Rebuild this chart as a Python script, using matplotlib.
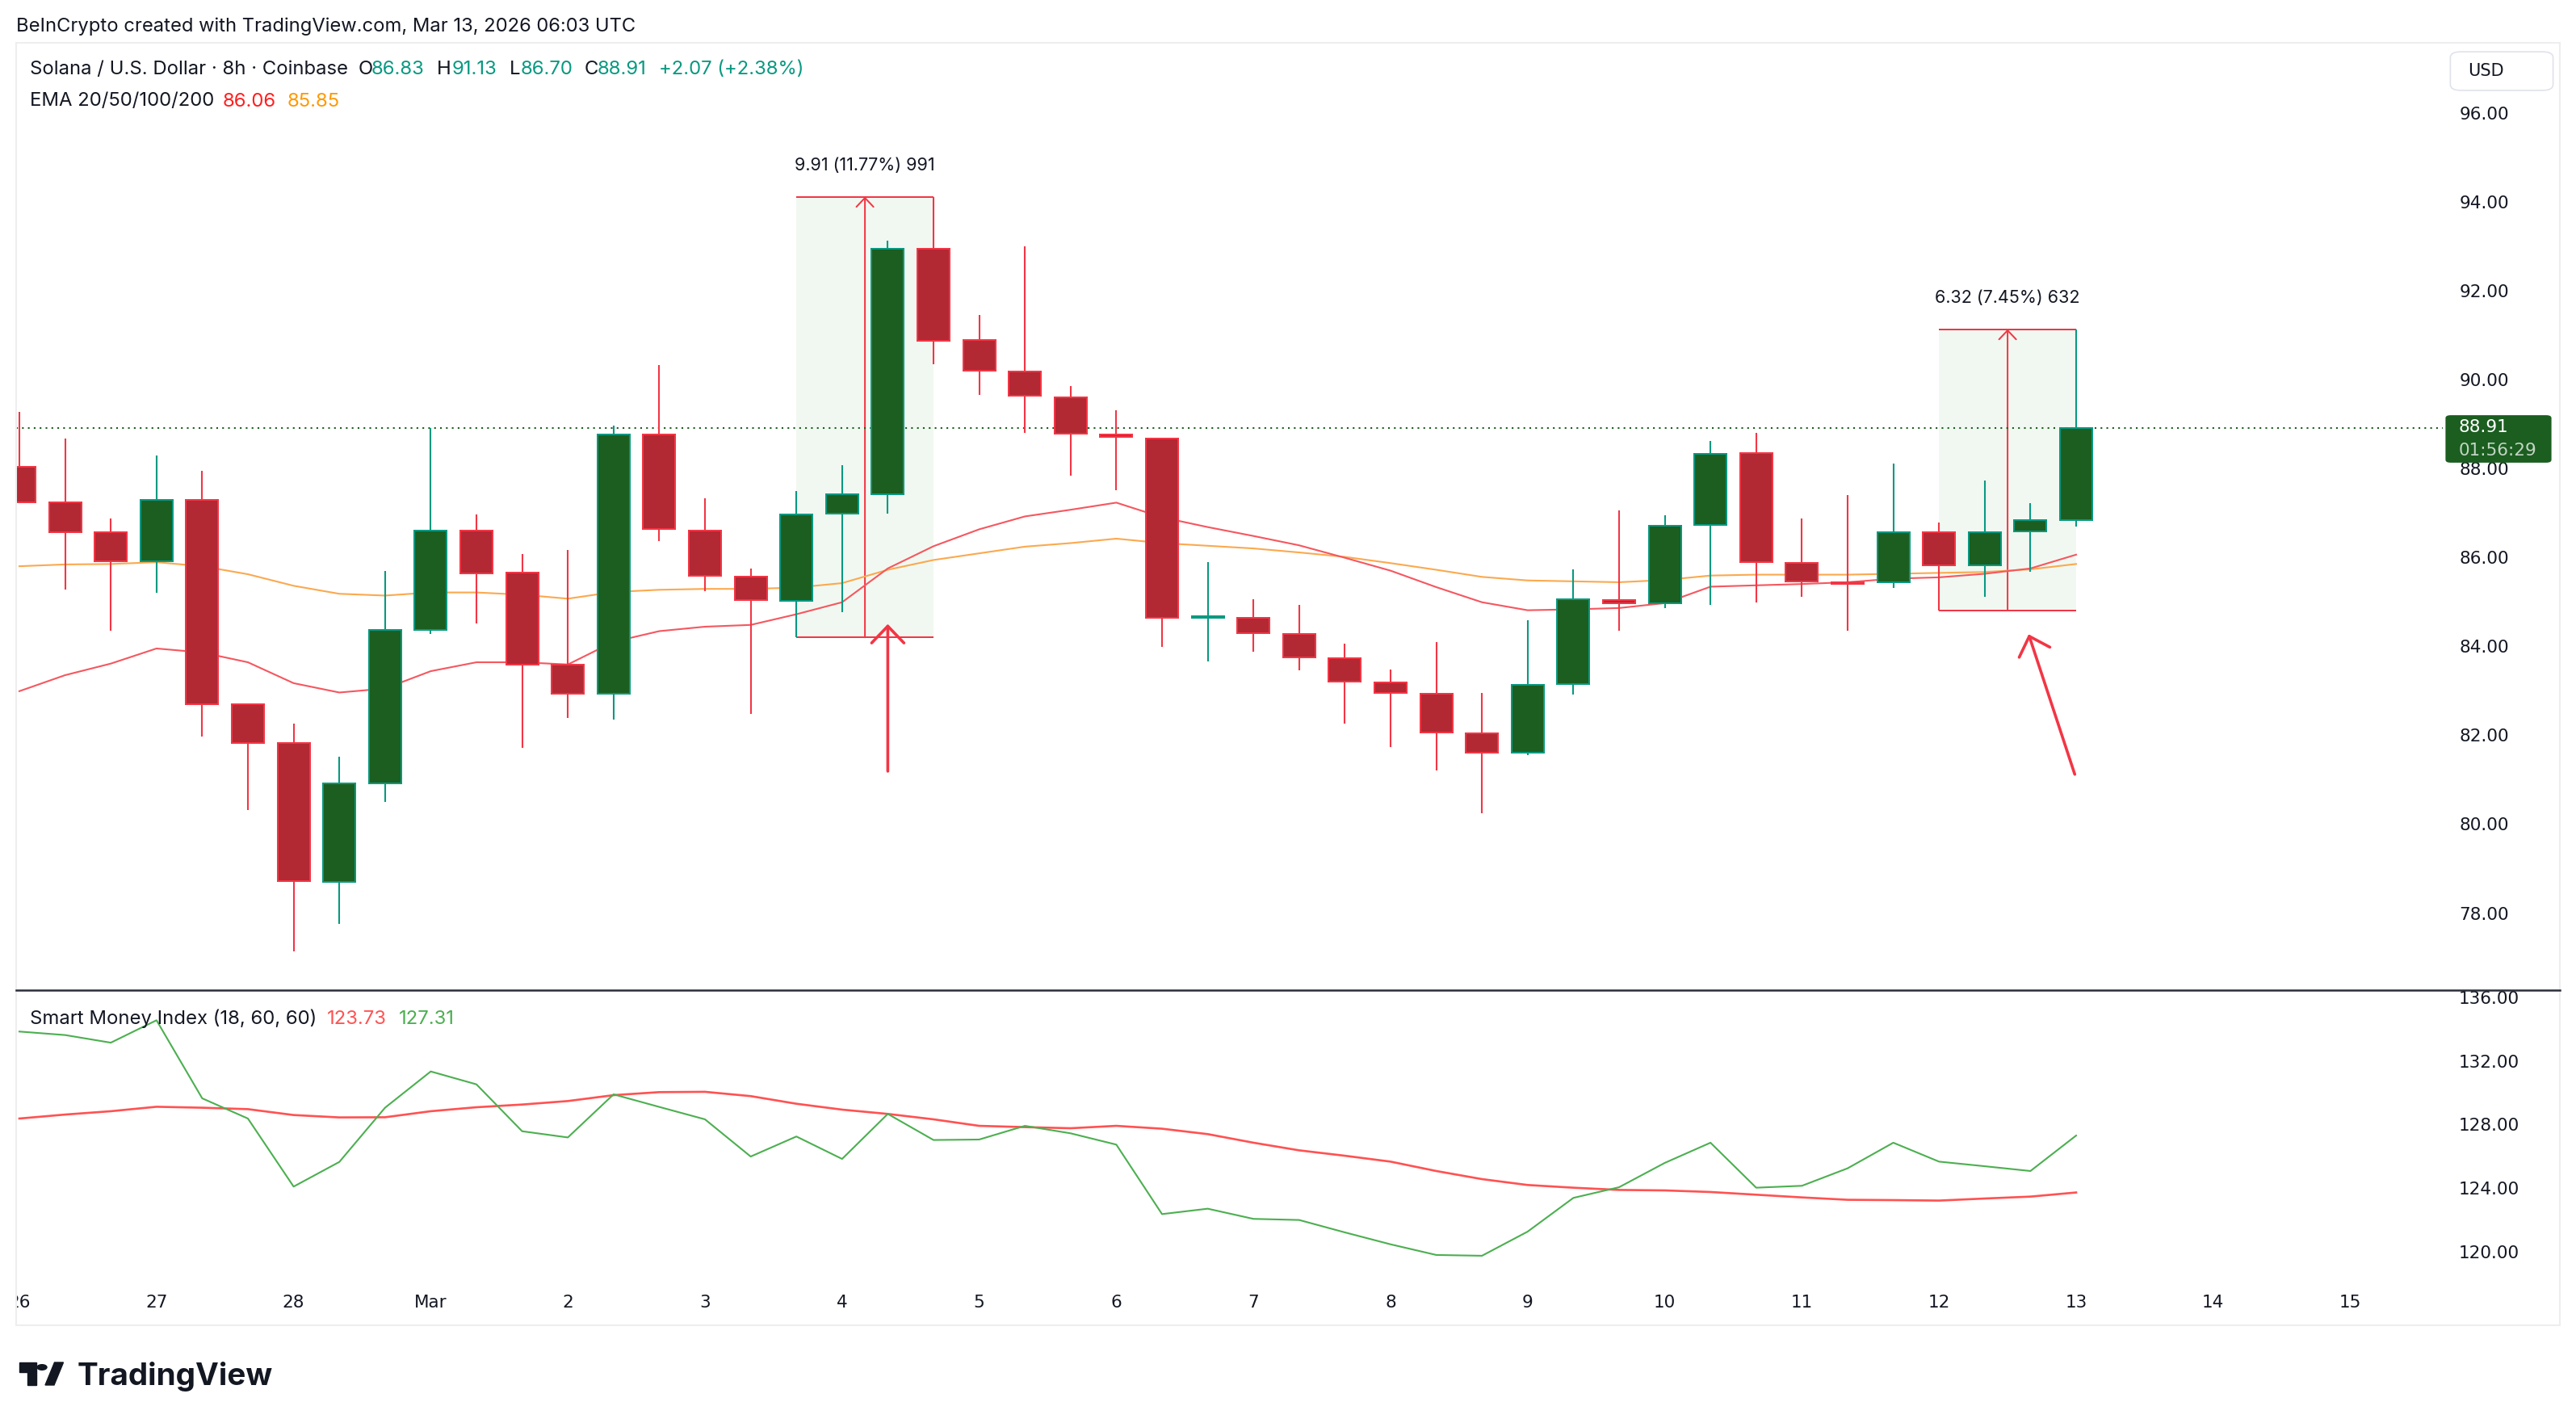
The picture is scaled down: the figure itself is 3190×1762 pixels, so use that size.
import matplotlib
matplotlib.use("Agg")
import matplotlib.pyplot as plt
from matplotlib.patches import Rectangle, FancyBboxPatch, Polygon, Circle
from matplotlib.transforms import Bbox, TransformedBbox

W, H, DPI = 3190, 1762, 100

# ---------------- data (8h candles, index 0 = Feb 26 00:00) ----------------
opens = [88.03, 87.23, 86.57, 85.91, 87.30, 82.70, 81.82, 78.70, 80.92, 84.37,
         86.61, 85.65, 83.59, 82.93, 88.77, 86.61, 85.56, 85.03, 86.99, 87.41,
         92.94, 90.88, 90.17, 89.60, 88.76, 88.67, 84.64, 84.64, 84.28, 83.74,
         83.18, 82.93, 82.04, 81.60, 83.15, 85.04, 84.96, 86.72, 88.35, 85.88,
         85.44, 85.43, 86.56, 85.82, 86.58, 86.83]
highs = [89.27, 88.68, 86.88, 88.29, 87.94, 82.72, 82.26, 81.52, 85.69, 88.90,
         86.97, 86.08, 86.17, 88.97, 90.33, 87.33, 85.75, 87.49, 88.07, 93.12,
         94.11, 91.45, 92.99, 89.86, 89.30, 88.69, 85.90, 85.06, 84.93, 84.06,
         83.47, 84.09, 82.95, 84.58, 85.73, 87.05, 86.95, 88.62, 88.80, 86.87,
         87.40, 88.10, 86.79, 87.72, 87.22, 91.13]
lows = [87.22, 85.28, 84.35, 85.20, 81.97, 80.31, 77.13, 77.75, 80.50, 84.28,
        84.52, 81.71, 82.38, 82.36, 86.36, 85.23, 82.47, 84.20, 84.77, 86.99,
        90.34, 89.65, 88.79, 87.83, 87.51, 83.98, 83.65, 83.88, 83.46, 82.26,
        81.74, 81.20, 80.25, 81.55, 82.92, 84.34, 84.86, 84.93, 84.99, 85.12,
        84.34, 85.32, 84.81, 85.12, 85.67, 86.70]
closes = [87.24, 86.57, 85.91, 87.30, 82.70, 81.83, 78.72, 80.91, 84.36, 86.61,
          85.63, 83.59, 82.93, 88.77, 86.64, 85.58, 85.04, 86.97, 87.41, 92.94,
          90.87, 90.20, 89.64, 88.78, 88.71, 84.64, 84.66, 84.30, 83.75, 83.21,
          82.95, 82.06, 81.60, 83.14, 85.05, 84.96, 86.71, 88.33, 85.89, 85.46,
          85.41, 86.56, 85.82, 86.56, 86.83, 88.91]
ema20 = [82.99, 83.35, 83.61, 83.95, 83.86, 83.64, 83.17, 82.96, 83.05, 83.44,
         83.64, 83.64, 83.59, 84.10, 84.34, 84.44, 84.48, 84.72, 84.99, 85.75,
         86.25, 86.63, 86.92, 87.07, 87.23, 86.90, 86.68, 86.48, 86.27, 85.99,
         85.70, 85.33, 84.99, 84.81, 84.83, 84.86, 84.97, 85.34, 85.37, 85.40,
         85.44, 85.52, 85.55, 85.63, 85.75, 86.06]
ema50 = [85.80, 85.84, 85.85, 85.89, 85.80, 85.62, 85.36, 85.18, 85.14, 85.21,
         85.21, 85.16, 85.07, 85.22, 85.27, 85.29, 85.29, 85.32, 85.42, 85.72,
         85.94, 86.09, 86.24, 86.32, 86.42, 86.32, 86.26, 86.20, 86.11, 86.01,
         85.87, 85.72, 85.56, 85.48, 85.46, 85.44, 85.49, 85.59, 85.61, 85.61,
         85.61, 85.63, 85.65, 85.67, 85.73, 85.85]
smi_green = [133.85, 133.63, 133.15, 134.56, 129.65, 128.38, 124.10, 125.65, 129.06, 131.34,
             130.53, 127.58, 127.19, 129.90, 129.11, 128.33, 125.99, 127.25, 125.84, 128.67,
             127.03, 127.06, 127.92, 127.45, 126.74, 122.37, 122.71, 122.07, 122.00, 121.22,
             120.47, 119.80, 119.75, 121.27, 123.39, 124.06, 125.59, 126.86, 124.03, 124.15,
             125.25, 126.86, 125.67, 125.38, 125.08, 127.31]
smi_red = [128.38, 128.63, 128.84, 129.12, 129.06, 128.97, 128.60, 128.45, 128.46, 128.84,
           129.09, 129.26, 129.48, 129.85, 130.04, 130.06, 129.79, 129.31, 128.94, 128.67,
           128.33, 127.92, 127.84, 127.77, 127.92, 127.74, 127.40, 126.86, 126.38, 126.04,
           125.67, 125.08, 124.57, 124.20, 124.03, 123.89, 123.86, 123.76, 123.59, 123.42,
           123.27, 123.25, 123.22, 123.35, 123.47, 123.73]
day_labels = ["26", "27", "28", "Mar", "2", "3", "4", "5", "6", "7", "8", "9",
              "10", "11", "12", "13", "14", "15"]
price_ticks = [78, 80, 82, 84, 86, 88, 90, 92, 94, 96]
smi_ticks = [120, 124, 128, 132, 136]
last_price = 88.91
# measurement boxes: (start candle, end candle, low, high, label)
measure_boxes = [(17, 20, 84.20, 94.11, "9.91 (11.77%) 991"),
                 (42, 45, 84.81, 91.13, "6.32 (7.45%) 632")]
# callout arrows: (tail x, tail price, tip x, tip price)
callouts = [(19.0, 81.19, 19.0, 84.50), (44.97, 81.12, 43.96, 84.27)]

# ---------------- style ----------------
UP_FILL, UP_EDGE = "#1b5e20", "#089981"
DN_FILL, DN_EDGE = "#b22833", "#f23645"
TXT = "#131722"
AXFONT = "DejaVu Sans"
HDFONT = ["Inter", "DejaVu Sans"]

fig = plt.figure(figsize=(W / DPI, H / DPI), dpi=DPI, facecolor="white")


def fx(x):
    return x / W


def fy(y):
    return 1 - y / H


PL, PR = 20, 3025
PTOP, PSEP, PBOT = 55, 1226, 1585
ax = fig.add_axes([fx(PL), fy(PSEP), (PR - PL) / W, (PSEP - PTOP) / H])
ax2 = fig.add_axes([fx(PL), fy(PBOT), (PR - PL) / W, (PBOT - PSEP) / H])

xmin, xmax = (PL - 24) / 56.6, (PR - 24) / 56.6
for a in (ax, ax2):
    a.set_xlim(xmin, xmax)
    for s in a.spines.values():
        s.set_visible(False)
    a.yaxis.tick_right()
    a.tick_params(axis="y", length=0, pad=14.5, labelsize=15.5, labelcolor=TXT)
    a.set_facecolor("white")

ax.set_ylim(96 - (PSEP - 139.5) / 55.06, 96 + (139.5 - PTOP) / 55.06)
ax.set_yticks(price_ticks, [f"{v:.2f}" for v in price_ticks], fontfamily=AXFONT)
ax.set_xticks([])

ax2.set_ylim(120 - (PBOT - 1550) / 19.69, 120 + (1550 - PSEP) / 19.69)
ax2.set_yticks(smi_ticks, [f"{v:.2f}" for v in smi_ticks], fontfamily=AXFONT)
ax2.set_xticks([3 * k for k in range(len(day_labels))], day_labels, fontfamily=AXFONT)
ax2.tick_params(axis="x", length=0, pad=13, labelsize=15.5, labelcolor=TXT)
clipbox = TransformedBbox(Bbox.from_extents(fx(PL), 0, 1, 1), fig.transFigure)
t0 = ax2.xaxis.get_major_ticks()[0]
t0.label1.set_clip_on(True)
t0.label1.set_clip_box(clipbox)

# ---------------- measure boxes ----------------
for x0, x1, lo, hi, label in measure_boxes:
    ax.add_patch(Rectangle((x0, lo), x1 - x0, hi - lo, facecolor="#f1f8f1",
                           edgecolor="none", zorder=0.5))
    ax.hlines([lo, hi], x0, x1, colors=DN_EDGE, lw=1.44, zorder=1)
    mid = (x0 + x1) / 2
    ax.annotate("", xy=(mid, hi), xytext=(mid, lo),
                arrowprops=dict(arrowstyle="->,head_length=0.4,head_width=0.38",
                                color=DN_EDGE, lw=1.44, shrinkA=0, shrinkB=0,
                                mutation_scale=20), zorder=1)
    ax.annotate(label, xy=(mid, hi), xytext=(0, 28), textcoords="offset points",
                ha="center", va="center", fontsize=15.5, color=TXT,
                fontfamily=HDFONT)

# ---------------- EMAs ----------------
xs = list(range(len(opens)))
ax.plot(xs, ema50, color="#fba94f", lw=1.5, zorder=2)
ax.plot(xs, ema20, color="#f5575f", lw=1.5, zorder=2)

# ---------------- candles ----------------
up = [c >= o for o, c in zip(opens, closes)]
wick_c = [UP_EDGE if u else DN_EDGE for u in up]
fill_c = [UP_FILL if u else DN_FILL for u in up]
bottoms = [min(o, c) for o, c in zip(opens, closes)]
heights = [max(abs(c - o), 0.03) for o, c in zip(opens, closes)]
ax.vlines(xs, lows, highs, colors=wick_c, lw=1.5, zorder=3)
ax.bar(xs, heights, bottom=bottoms, width=0.707, color=fill_c, edgecolor=wick_c,
       linewidth=1.44, zorder=4)

# last price dotted line
ax.axhline(last_price, color="#1b5e20", lw=1.5, ls=(0, (1, 2.5)), zorder=1.5)

# callout arrows
for tx, ty, hx, hy in callouts:
    ax.annotate("", xy=(hx, hy), xytext=(tx, ty),
                arrowprops=dict(arrowstyle="->,head_length=0.75,head_width=0.72",
                                color=DN_EDGE, lw=2.6, shrinkA=0, shrinkB=0,
                                mutation_scale=20), zorder=6)

# ---------------- SMI ----------------
ax2.plot(xs, smi_red, color="#ff5252", lw=1.9, zorder=2)
ax2.plot(xs, smi_green, color="#4caf50", lw=1.5, zorder=3)

# ---------------- frame & separator ----------------
fig.add_artist(Rectangle((fx(PL), fy(1641)), (3170 - PL) / W, (1641 - 53) / H,
                         transform=fig.transFigure, fill=False, edgecolor="#eeeeee",
                         lw=1.5, zorder=0.1))
fig.add_artist(plt.Line2D([fx(PL), fx(3170)], [fy(PSEP), fy(PSEP)],
                          transform=fig.transFigure, color="#2a2e39", lw=1.8, zorder=5))

# last price label
fig.add_artist(FancyBboxPatch((fx(3030), fy(572)), (3158 - 3030) / W, (572 - 515) / H,
                              boxstyle="round,pad=0.0005,rounding_size=0.002",
                              transform=fig.transFigure, facecolor="#1b5e20",
                              edgecolor="none", zorder=6))
fig.text(fx(3045), fy(529), f"{last_price:.2f}", ha="left", va="center",
         fontsize=15.5, color="white", fontfamily=AXFONT, zorder=7)
fig.text(fx(3045), fy(558), "01:56:29", ha="left", va="center",
         fontsize=15.5, color="#c3d4c4", fontfamily=AXFONT, zorder=7)

# USD button
fig.add_artist(FancyBboxPatch((fx(3036), fy(111)), (3160 - 3036) / W, (111 - 65) / H,
                              boxstyle="round,pad=0.0005,rounding_size=0.004",
                              transform=fig.transFigure, facecolor="white",
                              edgecolor="#e0e3eb", lw=1.2, zorder=6))
fig.text(fx(3078), fy(88), "USD", ha="center", va="center", fontsize=15,
         color=TXT, fontfamily=AXFONT, zorder=7)

# ---------------- header texts ----------------
fig.text(fx(20), fy(39), "BeInCrypto created with TradingView.com, Mar 13, 2026 06:03 UTC",
         ha="left", va="baseline", fontsize=17.1, color=TXT, fontfamily=HDFONT)

legend1 = [(37, "Solana / U.S. Dollar · 8h · Coinbase", TXT),
           (444, "O", TXT), (460, "86.83", UP_EDGE),
           (541, "H", TXT), (560, "91.13", UP_EDGE),
           (631, "L", TXT), (645, "86.70", UP_EDGE),
           (724, "C", TXT), (740, "88.91", UP_EDGE),
           (816, "+2.07 (+2.38%)", UP_EDGE)]
for x, s, c in legend1:
    fig.text(fx(x), fy(92), s, ha="left", va="baseline", fontsize=17.2, color=c,
             fontfamily=HDFONT)
legend2 = [(37, "EMA 20/50/100/200", TXT), (276, "86.06", "#ff1e1e"),
           (356, "85.85", "#ff9800")]
for x, s, c in legend2:
    fig.text(fx(x), fy(131.5), s, ha="left", va="baseline", fontsize=17.2, color=c,
             fontfamily=HDFONT)
legend3 = [(37, "Smart Money Index (18, 60, 60)", TXT), (405, "123.73", "#ff5252"),
           (494, "127.31", "#4caf50")]
for x, s, c in legend3:
    fig.text(fx(x), fy(1268), s, ha="left", va="baseline", fontsize=17.2, color=c,
             fontfamily=HDFONT)

# ---------------- TradingView logo ----------------
logo_col = "#131722"
fig.add_artist(Polygon([(fx(24), fy(1687)), (fx(45), fy(1687)), (fx(45), fy(1715)),
                        (fx(34), fy(1715)), (fx(34), fy(1699)), (fx(24), fy(1699))],
                       closed=True, transform=fig.transFigure, color=logo_col))
fig.add_artist(Circle((fx(52), fy(1693)), 6 / W, transform=fig.transFigure,
                      color=logo_col))
fig.add_artist(Polygon([(fx(56), fy(1715)), (fx(67), fy(1715)), (fx(78.5), fy(1687)),
                        (fx(67.5), fy(1687))],
                       closed=True, transform=fig.transFigure, color=logo_col))
fig.text(fx(96), fy(1715), "TradingView", ha="left", va="baseline", fontsize=27.8,
         fontweight="bold", color=logo_col, fontfamily=HDFONT)

fig.savefig("out.png", dpi=DPI, facecolor="white")
